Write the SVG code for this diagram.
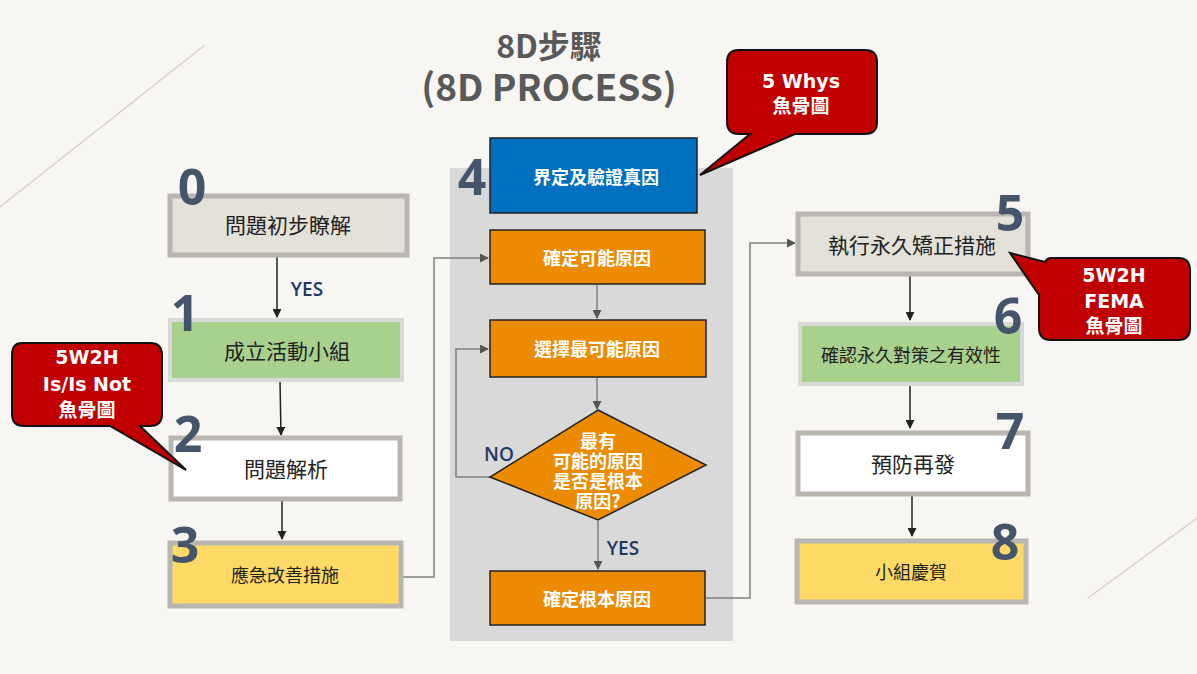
<svg xmlns="http://www.w3.org/2000/svg" width="1197" height="674" viewBox="0 0 1197 674">
<defs>
<style>
.t{font-family:"Noto Sans CJK TC","Liberation Sans",sans-serif;text-anchor:middle;dominant-baseline:central}
.bx{stroke:#b9b5b0;stroke-width:5}
.num{font-family:"Open Sans","DejaVu Sans",sans-serif;font-weight:bold;font-size:50px;fill:#44546a;text-anchor:middle;dominant-baseline:central}
.lb{font-size:21px;fill:#222}
.w{font-size:18px;fill:#fff;font-weight:bold}
.ob{fill:#ed8b00;stroke:#222;stroke-width:1.5}
.c{fill:none;stroke:#222;stroke-width:1.5}
.g{fill:none;stroke:#7f7f7f;stroke-width:1.5}
.co{fill:#c00000;stroke:#111;stroke-width:2}
.ct{font-family:"DejaVu Sans","Noto Sans CJK TC",sans-serif;font-weight:bold;font-size:19px;fill:#fff}
.navy{font-family:"Open Sans","Liberation Sans",sans-serif;font-size:19px;font-weight:600;fill:#1f3864}
</style>
<marker id="a" viewBox="0 0 10 10" refX="9" refY="5" markerWidth="6" markerHeight="6" orient="auto"><path d="M0,0L10,5L0,10z" fill="#222"/></marker>
<marker id="ag" viewBox="0 0 10 10" refX="9" refY="5" markerWidth="6" markerHeight="6" orient="auto"><path d="M0,0L10,5L0,10z" fill="#555"/></marker>
</defs>
<rect width="1197" height="674" fill="#f7f6f3"/>
<line x1="0" y1="207" x2="205" y2="45" stroke="#d8d4c8" stroke-width="1.5"/>
<line x1="1088" y1="598" x2="1197" y2="518" stroke="#d8d4c8" stroke-width="1.5"/>
<text class="t" x="549" y="44" font-size="32" font-weight="bold" fill="#595959">8D步驟</text>
<text class="t" x="549" y="85" font-size="37" font-weight="600" fill="#595959" font-family="Open Sans">(8D PROCESS)</text>
<rect x="450" y="168" width="283" height="473" fill="#d9d9d9"/>
<g id="connectors">
<line class="c" x1="277" y1="256" x2="277" y2="317" marker-end="url(#a)"/>
<text class="navy" x="307" y="289" text-anchor="middle" dominant-baseline="central">YES</text>
<line class="c" x1="280" y1="381" x2="281" y2="435" marker-end="url(#a)"/>
<line class="c" x1="282" y1="501" x2="282" y2="539" marker-end="url(#a)"/>
<polyline class="g" points="400,577 434,577 434,258 488,258" marker-end="url(#ag)"/>
<line class="g" x1="597" y1="285" x2="597" y2="318" stroke-width="2" marker-end="url(#ag)"/>
<line class="g" x1="597" y1="378" x2="597" y2="409" stroke-width="2" marker-end="url(#ag)"/>
<line class="g" x1="598" y1="521" x2="598" y2="569" stroke-width="2" marker-end="url(#ag)"/>
<text class="navy" x="623" y="548" text-anchor="middle" dominant-baseline="central">YES</text>
<polyline class="g" points="490,477 456,477 456,349 488,349" marker-end="url(#ag)"/>
<text class="navy" x="499" y="454" text-anchor="middle" dominant-baseline="central">NO</text>
<polyline class="g" points="706,598 750,598 750,243 795,243" marker-end="url(#ag)"/>
<line class="c" x1="910" y1="276" x2="910" y2="320" marker-end="url(#a)"/>
<line class="c" x1="910" y1="385" x2="910" y2="428" marker-end="url(#a)"/>
<line class="c" x1="912" y1="495" x2="912" y2="536" marker-end="url(#a)"/>
</g>
<g id="n0"><rect class="bx" x="170" y="196" width="237" height="59" fill="#e4e1d9"/><text class="t lb" x="288" y="224">問題初步瞭解</text><text class="num" x="192" y="186">0</text></g>
<g id="n1"><rect x="170" y="320" width="232" height="60" fill="#a9d18e" stroke="#d9d9d9" stroke-width="4"/><text class="t lb" x="287" y="350">成立活動小組</text><text class="num" x="185" y="312">1</text></g>
<g id="n2"><rect class="bx" x="171" y="438" width="229" height="61" fill="#fff"/><text class="t lb" x="286" y="468">問題解析</text><text class="num" x="188" y="433">2</text></g>
<g id="n3"><rect class="bx" x="170" y="543" width="231" height="63" fill="#ffd966"/><text class="t" x="285" y="574" font-size="18" fill="#222">應急改善措施</text><text class="num" x="185" y="544">3</text></g>
<g id="n4"><rect x="490" y="138" width="207" height="75" fill="#0070c0" stroke="#222" stroke-width="1.5"/><text class="t w" x="596" y="176">界定及驗證真因</text><text class="num" x="472" y="176">4</text></g>
<g id="n4a"><rect class="ob" x="490" y="230" width="215" height="54"/><text class="t w" x="597" y="257">確定可能原因</text></g>
<g id="n4b"><rect class="ob" x="490" y="320" width="216" height="57"/><text class="t w" x="597" y="348">選擇最可能原因</text></g>
<g id="n4c"><polygon class="ob" points="598,410 706,465 598,520 490,477"/><text class="t w" font-size="15" x="598" y="440">最有</text><text class="t w" font-size="15" x="598" y="460">可能的原因</text><text class="t w" font-size="15" x="598" y="480">是否是根本</text><text class="t w" font-size="15" x="598" y="500">原因?</text></g>
<g id="n4d"><rect class="ob" x="490" y="571" width="215" height="54"/><text class="t w" x="597" y="598">確定根本原因</text></g>
<g id="n5"><rect class="bx" x="798" y="214" width="230" height="60" fill="#e4e1d9"/><text class="t lb" x="912" y="244">執行永久矯正措施</text><text class="num" x="1010" y="212">5</text></g>
<g id="n6"><rect x="800" y="324" width="222" height="60" fill="#a9d18e" stroke="#d9d9d9" stroke-width="4"/><text class="t" x="911" y="354" font-size="18" fill="#222">確認永久對策之有效性</text><text class="num" x="1008" y="315">6</text></g>
<g id="n7"><rect class="bx" x="798" y="433" width="230" height="61" fill="#fff"/><text class="t lb" x="913" y="463">預防再發</text><text class="num" x="1010" y="430">7</text></g>
<g id="n8"><rect class="bx" x="797" y="541" width="229" height="61" fill="#ffd966"/><text class="t" x="911" y="571" font-size="18" fill="#222">小組慶賀</text><text class="num" x="1005" y="541">8</text></g>
<g id="c1"><path class="co" d="M22,343 H150 Q162,343 162,355 V414 Q162,426 150,426 H140 L186,470 L110,426 H24 Q12,426 12,414 V355 Q12,343 22,343z"/><text class="t ct" x="87" y="357">5W2H</text><text class="t ct" x="87" y="384">Is/Is Not</text><text class="t ct" x="87" y="410" font-size="17">魚骨圖</text></g>
<g id="c2"><path class="co" d="M739,50 H865 Q877,50 877,62 V122 Q877,134 865,134 H795 L700,175 L750,134 H739 Q727,134 727,122 V62 Q727,50 739,50z"/><text class="t ct" x="801" y="81">5 Whys</text><text class="t ct" x="801" y="106" font-size="17">魚骨圖</text></g>
<g id="c3"><path class="co" d="M1051,258 H1178 Q1190,258 1190,270 V328 Q1190,340 1178,340 H1051 Q1039,340 1039,328 V295 L1010,253 L1045,262 Q1047,258 1051,258z"/><text class="t ct" x="1114" y="275">5W2H</text><text class="t ct" x="1114" y="301">FEMA</text><text class="t ct" x="1114" y="326" font-size="17">魚骨圖</text></g>
</svg>
